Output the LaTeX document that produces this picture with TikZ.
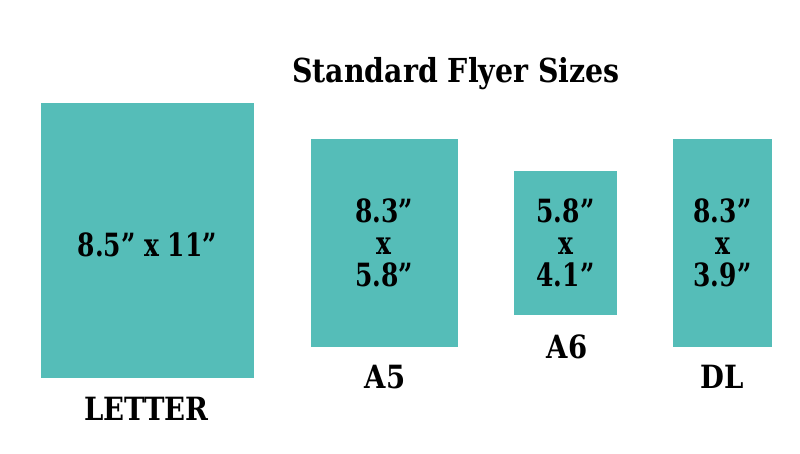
\documentclass[tikz,border=0pt]{standalone}
\usepackage{fontspec}
\setmainfont{DejaVu Serif}[FakeStretch=0.86]
\newfontfamily\sizefont{DejaVu Serif}[FakeStretch=0.78]
\usepackage{tikz}
\definecolor{flyerteal}{HTML}{55BDB8}

\begin{document}
\begin{tikzpicture}[x=1pt,y=-1pt,
  sheet/.style={fill=flyerteal,inner sep=0pt,align=center,
    font=\sizefont\bfseries\fontsize{32}{32}\selectfont},
  sizename/.style={anchor=base,inner sep=0pt,font=\bfseries\fontsize{32}{33}\selectfont}]
\useasboundingbox[fill=white](0,0)rectangle(800,454);
\node[anchor=base,inner sep=0pt,font=\bfseries\fontsize{33}{35}\selectfont](title)at(456,83){Standard Flyer Sizes};
% the four sheets, drawn to scale
\node[sheet,minimum width=213pt,minimum height=275pt,text height=32pt,text depth=0pt](letter)at(147.5,240.5){8.5” x 11”};
\node[sheet,minimum width=147pt,minimum height=208pt](afive)at(384,243){8.3”\\x\\5.8”};
\node[sheet,minimum width=103pt,minimum height=144pt](asix)at(565.5,243){5.8”\\x\\4.1”};
\node[sheet,minimum width=99pt,minimum height=208pt](dl)at(722.5,243){8.3”\\x\\3.9”};
% names under the sheets
\node[sizename](letterlbl)at(146.5,420){LETTER};
\node[sizename](afivelbl)at(385,388){A5};
\node[sizename](asixlbl)at(567,358){A6};
\node[sizename](dllbl)at(722.5,388){DL};
\end{tikzpicture}
\end{document}
